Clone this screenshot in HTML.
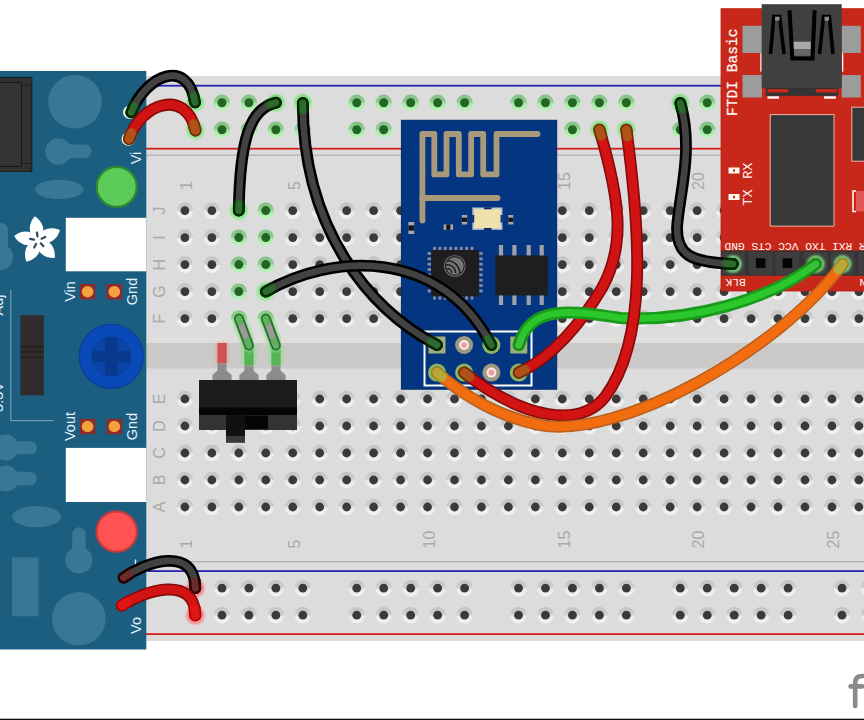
<!DOCTYPE html><html><head><meta charset="utf-8"><style>html,body{margin:0;padding:0;background:#fff;width:864px;height:720px;overflow:hidden}svg{display:block}</style></head><body>
<svg width="864" height="720" viewBox="0 0 864 720">
<defs>
<linearGradient id="hg" x1="0" y1="0" x2="0" y2="1"><stop offset="0" stop-color="#c4c4c4"/><stop offset="0.42" stop-color="#cccccc"/><stop offset="0.58" stop-color="#ebebeb"/><stop offset="1" stop-color="#f3f3f3"/></linearGradient>
<linearGradient id="gg" x1="0" y1="0" x2="0" y2="1"><stop offset="0" stop-color="#84c084"/><stop offset="0.45" stop-color="#8ecc8e"/><stop offset="0.56" stop-color="#a6eaa6"/><stop offset="1" stop-color="#bcf4bc"/></linearGradient>
<filter id="bl" x="-50%" y="-50%" width="200%" height="200%"><feGaussianBlur stdDeviation="0.6"/></filter>
<filter id="bl2" x="-50%" y="-50%" width="200%" height="200%"><feGaussianBlur stdDeviation="1.2"/></filter>
<g id="h"><circle r="8.3" fill="url(#hg)" filter="url(#bl)"/><circle r="4.4" fill="#3a3a3a"/></g>
<g id="hgr"><circle r="8.2" fill="url(#gg)" filter="url(#bl)"/><circle r="4.5" fill="#246424"/></g>
</defs>
<rect x="146" y="76" width="720" height="565" fill="#dcdcdc"/>
<rect x="146" y="336.5" width="720" height="6.5" fill="#dfdedc"/><rect x="146" y="343" width="720" height="25.5" fill="#cbcac8"/>
<rect x="148" y="84.8" width="718" height="1.8" fill="#2525b0"/>
<rect x="146" y="147.8" width="720" height="1.8" fill="#d82020"/>
<rect x="146" y="154.5" width="720" height="1.4" fill="#b4b4b4"/>
<rect x="146" y="561" width="720" height="1.4" fill="#b4b4b4"/>
<rect x="148" y="570.2" width="718" height="1.8" fill="#2525b0"/>
<rect x="146" y="633.2" width="720" height="1.8" fill="#d82020"/>
<text x="0" y="0" transform="translate(186.70000000000002,190) rotate(-90)" font-family='"Liberation Sans", sans-serif' font-size="16" fill="#a9a9a9" text-anchor="start" dominant-baseline="central" >1</text>
<text x="0" y="0" transform="translate(186.70000000000002,548.5) rotate(-90)" font-family='"Liberation Sans", sans-serif' font-size="16" fill="#a9a9a9" text-anchor="start" dominant-baseline="central" >1</text>
<text x="0" y="0" transform="translate(294.54,190) rotate(-90)" font-family='"Liberation Sans", sans-serif' font-size="16" fill="#a9a9a9" text-anchor="start" dominant-baseline="central" >5</text>
<text x="0" y="0" transform="translate(294.54,548.5) rotate(-90)" font-family='"Liberation Sans", sans-serif' font-size="16" fill="#a9a9a9" text-anchor="start" dominant-baseline="central" >5</text>
<text x="0" y="0" transform="translate(429.34000000000003,190) rotate(-90)" font-family='"Liberation Sans", sans-serif' font-size="16" fill="#a9a9a9" text-anchor="start" dominant-baseline="central" >10</text>
<text x="0" y="0" transform="translate(429.34000000000003,548.5) rotate(-90)" font-family='"Liberation Sans", sans-serif' font-size="16" fill="#a9a9a9" text-anchor="start" dominant-baseline="central" >10</text>
<text x="0" y="0" transform="translate(564.14,190) rotate(-90)" font-family='"Liberation Sans", sans-serif' font-size="16" fill="#a9a9a9" text-anchor="start" dominant-baseline="central" >15</text>
<text x="0" y="0" transform="translate(564.14,548.5) rotate(-90)" font-family='"Liberation Sans", sans-serif' font-size="16" fill="#a9a9a9" text-anchor="start" dominant-baseline="central" >15</text>
<text x="0" y="0" transform="translate(698.9399999999999,190) rotate(-90)" font-family='"Liberation Sans", sans-serif' font-size="16" fill="#a9a9a9" text-anchor="start" dominant-baseline="central" >20</text>
<text x="0" y="0" transform="translate(698.9399999999999,548.5) rotate(-90)" font-family='"Liberation Sans", sans-serif' font-size="16" fill="#a9a9a9" text-anchor="start" dominant-baseline="central" >20</text>
<text x="0" y="0" transform="translate(833.7399999999999,190) rotate(-90)" font-family='"Liberation Sans", sans-serif' font-size="16" fill="#a9a9a9" text-anchor="start" dominant-baseline="central" >25</text>
<text x="0" y="0" transform="translate(833.7399999999999,548.5) rotate(-90)" font-family='"Liberation Sans", sans-serif' font-size="16" fill="#a9a9a9" text-anchor="start" dominant-baseline="central" >25</text>
<text x="0" y="0" transform="translate(159.2,210.6) rotate(-90)" font-family='"Liberation Sans", sans-serif' font-size="16" fill="#a9a9a9" text-anchor="middle" dominant-baseline="central" >J</text>
<text x="0" y="0" transform="translate(159.2,237.6) rotate(-90)" font-family='"Liberation Sans", sans-serif' font-size="16" fill="#a9a9a9" text-anchor="middle" dominant-baseline="central" >I</text>
<text x="0" y="0" transform="translate(159.2,264.6) rotate(-90)" font-family='"Liberation Sans", sans-serif' font-size="16" fill="#a9a9a9" text-anchor="middle" dominant-baseline="central" >H</text>
<text x="0" y="0" transform="translate(159.2,291.6) rotate(-90)" font-family='"Liberation Sans", sans-serif' font-size="16" fill="#a9a9a9" text-anchor="middle" dominant-baseline="central" >G</text>
<text x="0" y="0" transform="translate(159.2,318.6) rotate(-90)" font-family='"Liberation Sans", sans-serif' font-size="16" fill="#a9a9a9" text-anchor="middle" dominant-baseline="central" >F</text>
<text x="0" y="0" transform="translate(159.2,399) rotate(-90)" font-family='"Liberation Sans", sans-serif' font-size="16" fill="#a9a9a9" text-anchor="middle" dominant-baseline="central" >E</text>
<text x="0" y="0" transform="translate(159.2,426) rotate(-90)" font-family='"Liberation Sans", sans-serif' font-size="16" fill="#a9a9a9" text-anchor="middle" dominant-baseline="central" >D</text>
<text x="0" y="0" transform="translate(159.2,453) rotate(-90)" font-family='"Liberation Sans", sans-serif' font-size="16" fill="#a9a9a9" text-anchor="middle" dominant-baseline="central" >C</text>
<text x="0" y="0" transform="translate(159.2,480) rotate(-90)" font-family='"Liberation Sans", sans-serif' font-size="16" fill="#a9a9a9" text-anchor="middle" dominant-baseline="central" >B</text>
<text x="0" y="0" transform="translate(159.2,507) rotate(-90)" font-family='"Liberation Sans", sans-serif' font-size="16" fill="#a9a9a9" text-anchor="middle" dominant-baseline="central" >A</text>
<use href="#h" x="184.90" y="210.6"/>
<use href="#h" x="184.90" y="237.6"/>
<use href="#h" x="184.90" y="264.6"/>
<use href="#h" x="184.90" y="291.6"/>
<use href="#h" x="184.90" y="318.6"/>
<use href="#h" x="184.90" y="399"/>
<use href="#h" x="184.90" y="426"/>
<use href="#h" x="184.90" y="453"/>
<use href="#h" x="184.90" y="480"/>
<use href="#h" x="184.90" y="507"/>
<use href="#h" x="211.86" y="210.6"/>
<use href="#h" x="211.86" y="237.6"/>
<use href="#h" x="211.86" y="264.6"/>
<use href="#h" x="211.86" y="291.6"/>
<use href="#h" x="211.86" y="318.6"/>
<use href="#h" x="211.86" y="399"/>
<use href="#h" x="211.86" y="426"/>
<use href="#h" x="211.86" y="453"/>
<use href="#h" x="211.86" y="480"/>
<use href="#h" x="211.86" y="507"/>
<use href="#hgr" x="238.82" y="210.6"/>
<use href="#hgr" x="238.82" y="237.6"/>
<use href="#hgr" x="238.82" y="264.6"/>
<use href="#hgr" x="238.82" y="291.6"/>
<use href="#hgr" x="238.82" y="318.6"/>
<use href="#h" x="238.82" y="399"/>
<use href="#h" x="238.82" y="426"/>
<use href="#h" x="238.82" y="453"/>
<use href="#h" x="238.82" y="480"/>
<use href="#h" x="238.82" y="507"/>
<use href="#hgr" x="265.78" y="210.6"/>
<use href="#hgr" x="265.78" y="237.6"/>
<use href="#hgr" x="265.78" y="264.6"/>
<use href="#hgr" x="265.78" y="291.6"/>
<use href="#hgr" x="265.78" y="318.6"/>
<use href="#h" x="265.78" y="399"/>
<use href="#h" x="265.78" y="426"/>
<use href="#h" x="265.78" y="453"/>
<use href="#h" x="265.78" y="480"/>
<use href="#h" x="265.78" y="507"/>
<use href="#h" x="292.74" y="210.6"/>
<use href="#h" x="292.74" y="237.6"/>
<use href="#h" x="292.74" y="264.6"/>
<use href="#h" x="292.74" y="291.6"/>
<use href="#h" x="292.74" y="318.6"/>
<use href="#h" x="292.74" y="399"/>
<use href="#h" x="292.74" y="426"/>
<use href="#h" x="292.74" y="453"/>
<use href="#h" x="292.74" y="480"/>
<use href="#h" x="292.74" y="507"/>
<use href="#h" x="319.70" y="210.6"/>
<use href="#h" x="319.70" y="237.6"/>
<use href="#h" x="319.70" y="264.6"/>
<use href="#h" x="319.70" y="291.6"/>
<use href="#h" x="319.70" y="318.6"/>
<use href="#h" x="319.70" y="399"/>
<use href="#h" x="319.70" y="426"/>
<use href="#h" x="319.70" y="453"/>
<use href="#h" x="319.70" y="480"/>
<use href="#h" x="319.70" y="507"/>
<use href="#h" x="346.66" y="210.6"/>
<use href="#h" x="346.66" y="237.6"/>
<use href="#h" x="346.66" y="264.6"/>
<use href="#h" x="346.66" y="291.6"/>
<use href="#h" x="346.66" y="318.6"/>
<use href="#h" x="346.66" y="399"/>
<use href="#h" x="346.66" y="426"/>
<use href="#h" x="346.66" y="453"/>
<use href="#h" x="346.66" y="480"/>
<use href="#h" x="346.66" y="507"/>
<use href="#h" x="373.62" y="210.6"/>
<use href="#h" x="373.62" y="237.6"/>
<use href="#h" x="373.62" y="264.6"/>
<use href="#h" x="373.62" y="291.6"/>
<use href="#h" x="373.62" y="318.6"/>
<use href="#h" x="373.62" y="399"/>
<use href="#h" x="373.62" y="426"/>
<use href="#h" x="373.62" y="453"/>
<use href="#h" x="373.62" y="480"/>
<use href="#h" x="373.62" y="507"/>
<use href="#h" x="400.58" y="210.6"/>
<use href="#h" x="400.58" y="237.6"/>
<use href="#h" x="400.58" y="264.6"/>
<use href="#h" x="400.58" y="291.6"/>
<use href="#h" x="400.58" y="318.6"/>
<use href="#h" x="400.58" y="399"/>
<use href="#h" x="400.58" y="426"/>
<use href="#h" x="400.58" y="453"/>
<use href="#h" x="400.58" y="480"/>
<use href="#h" x="400.58" y="507"/>
<use href="#h" x="427.54" y="210.6"/>
<use href="#h" x="427.54" y="237.6"/>
<use href="#h" x="427.54" y="264.6"/>
<use href="#h" x="427.54" y="291.6"/>
<use href="#h" x="427.54" y="318.6"/>
<use href="#h" x="427.54" y="399"/>
<use href="#h" x="427.54" y="426"/>
<use href="#h" x="427.54" y="453"/>
<use href="#h" x="427.54" y="480"/>
<use href="#h" x="427.54" y="507"/>
<use href="#h" x="454.50" y="210.6"/>
<use href="#h" x="454.50" y="237.6"/>
<use href="#h" x="454.50" y="264.6"/>
<use href="#h" x="454.50" y="291.6"/>
<use href="#h" x="454.50" y="318.6"/>
<use href="#h" x="454.50" y="399"/>
<use href="#h" x="454.50" y="426"/>
<use href="#h" x="454.50" y="453"/>
<use href="#h" x="454.50" y="480"/>
<use href="#h" x="454.50" y="507"/>
<use href="#h" x="481.46" y="210.6"/>
<use href="#h" x="481.46" y="237.6"/>
<use href="#h" x="481.46" y="264.6"/>
<use href="#h" x="481.46" y="291.6"/>
<use href="#h" x="481.46" y="318.6"/>
<use href="#h" x="481.46" y="399"/>
<use href="#h" x="481.46" y="426"/>
<use href="#h" x="481.46" y="453"/>
<use href="#h" x="481.46" y="480"/>
<use href="#h" x="481.46" y="507"/>
<use href="#h" x="508.42" y="210.6"/>
<use href="#h" x="508.42" y="237.6"/>
<use href="#h" x="508.42" y="264.6"/>
<use href="#h" x="508.42" y="291.6"/>
<use href="#h" x="508.42" y="318.6"/>
<use href="#h" x="508.42" y="399"/>
<use href="#h" x="508.42" y="426"/>
<use href="#h" x="508.42" y="453"/>
<use href="#h" x="508.42" y="480"/>
<use href="#h" x="508.42" y="507"/>
<use href="#h" x="535.38" y="210.6"/>
<use href="#h" x="535.38" y="237.6"/>
<use href="#h" x="535.38" y="264.6"/>
<use href="#h" x="535.38" y="291.6"/>
<use href="#h" x="535.38" y="318.6"/>
<use href="#h" x="535.38" y="399"/>
<use href="#h" x="535.38" y="426"/>
<use href="#h" x="535.38" y="453"/>
<use href="#h" x="535.38" y="480"/>
<use href="#h" x="535.38" y="507"/>
<use href="#h" x="562.34" y="210.6"/>
<use href="#h" x="562.34" y="237.6"/>
<use href="#h" x="562.34" y="264.6"/>
<use href="#h" x="562.34" y="291.6"/>
<use href="#h" x="562.34" y="318.6"/>
<use href="#h" x="562.34" y="399"/>
<use href="#h" x="562.34" y="426"/>
<use href="#h" x="562.34" y="453"/>
<use href="#h" x="562.34" y="480"/>
<use href="#h" x="562.34" y="507"/>
<use href="#h" x="589.30" y="210.6"/>
<use href="#h" x="589.30" y="237.6"/>
<use href="#h" x="589.30" y="264.6"/>
<use href="#h" x="589.30" y="291.6"/>
<use href="#h" x="589.30" y="318.6"/>
<use href="#h" x="589.30" y="399"/>
<use href="#h" x="589.30" y="426"/>
<use href="#h" x="589.30" y="453"/>
<use href="#h" x="589.30" y="480"/>
<use href="#h" x="589.30" y="507"/>
<use href="#h" x="616.26" y="210.6"/>
<use href="#h" x="616.26" y="237.6"/>
<use href="#h" x="616.26" y="264.6"/>
<use href="#h" x="616.26" y="291.6"/>
<use href="#h" x="616.26" y="318.6"/>
<use href="#h" x="616.26" y="399"/>
<use href="#h" x="616.26" y="426"/>
<use href="#h" x="616.26" y="453"/>
<use href="#h" x="616.26" y="480"/>
<use href="#h" x="616.26" y="507"/>
<use href="#h" x="643.22" y="210.6"/>
<use href="#h" x="643.22" y="237.6"/>
<use href="#h" x="643.22" y="264.6"/>
<use href="#h" x="643.22" y="291.6"/>
<use href="#h" x="643.22" y="318.6"/>
<use href="#h" x="643.22" y="399"/>
<use href="#h" x="643.22" y="426"/>
<use href="#h" x="643.22" y="453"/>
<use href="#h" x="643.22" y="480"/>
<use href="#h" x="643.22" y="507"/>
<use href="#h" x="670.18" y="210.6"/>
<use href="#h" x="670.18" y="237.6"/>
<use href="#h" x="670.18" y="264.6"/>
<use href="#h" x="670.18" y="291.6"/>
<use href="#h" x="670.18" y="318.6"/>
<use href="#h" x="670.18" y="399"/>
<use href="#h" x="670.18" y="426"/>
<use href="#h" x="670.18" y="453"/>
<use href="#h" x="670.18" y="480"/>
<use href="#h" x="670.18" y="507"/>
<use href="#h" x="697.14" y="210.6"/>
<use href="#h" x="697.14" y="237.6"/>
<use href="#h" x="697.14" y="264.6"/>
<use href="#h" x="697.14" y="291.6"/>
<use href="#h" x="697.14" y="318.6"/>
<use href="#h" x="697.14" y="399"/>
<use href="#h" x="697.14" y="426"/>
<use href="#h" x="697.14" y="453"/>
<use href="#h" x="697.14" y="480"/>
<use href="#h" x="697.14" y="507"/>
<use href="#h" x="724.10" y="210.6"/>
<use href="#h" x="724.10" y="237.6"/>
<use href="#h" x="724.10" y="264.6"/>
<use href="#h" x="724.10" y="291.6"/>
<use href="#h" x="724.10" y="318.6"/>
<use href="#h" x="724.10" y="399"/>
<use href="#h" x="724.10" y="426"/>
<use href="#h" x="724.10" y="453"/>
<use href="#h" x="724.10" y="480"/>
<use href="#h" x="724.10" y="507"/>
<use href="#h" x="751.06" y="210.6"/>
<use href="#h" x="751.06" y="237.6"/>
<use href="#h" x="751.06" y="264.6"/>
<use href="#h" x="751.06" y="291.6"/>
<use href="#h" x="751.06" y="318.6"/>
<use href="#h" x="751.06" y="399"/>
<use href="#h" x="751.06" y="426"/>
<use href="#h" x="751.06" y="453"/>
<use href="#h" x="751.06" y="480"/>
<use href="#h" x="751.06" y="507"/>
<use href="#h" x="778.02" y="210.6"/>
<use href="#h" x="778.02" y="237.6"/>
<use href="#h" x="778.02" y="264.6"/>
<use href="#h" x="778.02" y="291.6"/>
<use href="#h" x="778.02" y="318.6"/>
<use href="#h" x="778.02" y="399"/>
<use href="#h" x="778.02" y="426"/>
<use href="#h" x="778.02" y="453"/>
<use href="#h" x="778.02" y="480"/>
<use href="#h" x="778.02" y="507"/>
<use href="#h" x="804.98" y="210.6"/>
<use href="#h" x="804.98" y="237.6"/>
<use href="#h" x="804.98" y="264.6"/>
<use href="#h" x="804.98" y="291.6"/>
<use href="#h" x="804.98" y="318.6"/>
<use href="#h" x="804.98" y="399"/>
<use href="#h" x="804.98" y="426"/>
<use href="#h" x="804.98" y="453"/>
<use href="#h" x="804.98" y="480"/>
<use href="#h" x="804.98" y="507"/>
<use href="#h" x="831.94" y="210.6"/>
<use href="#h" x="831.94" y="237.6"/>
<use href="#h" x="831.94" y="264.6"/>
<use href="#h" x="831.94" y="291.6"/>
<use href="#h" x="831.94" y="318.6"/>
<use href="#h" x="831.94" y="399"/>
<use href="#h" x="831.94" y="426"/>
<use href="#h" x="831.94" y="453"/>
<use href="#h" x="831.94" y="480"/>
<use href="#h" x="831.94" y="507"/>
<use href="#h" x="858.90" y="210.6"/>
<use href="#h" x="858.90" y="237.6"/>
<use href="#h" x="858.90" y="264.6"/>
<use href="#h" x="858.90" y="291.6"/>
<use href="#h" x="858.90" y="318.6"/>
<use href="#h" x="858.90" y="399"/>
<use href="#h" x="858.90" y="426"/>
<use href="#h" x="858.90" y="453"/>
<use href="#h" x="858.90" y="480"/>
<use href="#h" x="858.90" y="507"/>
<use href="#hgr" x="195.0" y="102.7"/>
<use href="#hgr" x="195.0" y="129.7"/>
<use href="#h" x="195.00" y="588.2"/>
<use href="#h" x="195.00" y="615.2"/>
<use href="#hgr" x="221.96" y="102.7"/>
<use href="#hgr" x="221.96" y="129.7"/>
<use href="#h" x="221.96" y="588.2"/>
<use href="#h" x="221.96" y="615.2"/>
<use href="#hgr" x="248.92" y="102.7"/>
<use href="#hgr" x="248.92" y="129.7"/>
<use href="#h" x="248.92" y="588.2"/>
<use href="#h" x="248.92" y="615.2"/>
<use href="#hgr" x="275.88" y="102.7"/>
<use href="#hgr" x="275.88" y="129.7"/>
<use href="#h" x="275.88" y="588.2"/>
<use href="#h" x="275.88" y="615.2"/>
<use href="#hgr" x="302.84" y="102.7"/>
<use href="#hgr" x="302.84" y="129.7"/>
<use href="#h" x="302.84" y="588.2"/>
<use href="#h" x="302.84" y="615.2"/>
<use href="#hgr" x="356.76" y="102.7"/>
<use href="#hgr" x="356.76" y="129.7"/>
<use href="#h" x="356.76" y="588.2"/>
<use href="#h" x="356.76" y="615.2"/>
<use href="#hgr" x="383.72" y="102.7"/>
<use href="#hgr" x="383.72" y="129.7"/>
<use href="#h" x="383.72" y="588.2"/>
<use href="#h" x="383.72" y="615.2"/>
<use href="#hgr" x="410.68" y="102.7"/>
<use href="#hgr" x="410.68" y="129.7"/>
<use href="#h" x="410.68" y="588.2"/>
<use href="#h" x="410.68" y="615.2"/>
<use href="#hgr" x="437.64" y="102.7"/>
<use href="#hgr" x="437.64" y="129.7"/>
<use href="#h" x="437.64" y="588.2"/>
<use href="#h" x="437.64" y="615.2"/>
<use href="#hgr" x="464.6" y="102.7"/>
<use href="#hgr" x="464.6" y="129.7"/>
<use href="#h" x="464.60" y="588.2"/>
<use href="#h" x="464.60" y="615.2"/>
<use href="#hgr" x="518.52" y="102.7"/>
<use href="#hgr" x="518.52" y="129.7"/>
<use href="#h" x="518.52" y="588.2"/>
<use href="#h" x="518.52" y="615.2"/>
<use href="#hgr" x="545.48" y="102.7"/>
<use href="#hgr" x="545.48" y="129.7"/>
<use href="#h" x="545.48" y="588.2"/>
<use href="#h" x="545.48" y="615.2"/>
<use href="#hgr" x="572.44" y="102.7"/>
<use href="#hgr" x="572.44" y="129.7"/>
<use href="#h" x="572.44" y="588.2"/>
<use href="#h" x="572.44" y="615.2"/>
<use href="#hgr" x="599.4" y="102.7"/>
<use href="#hgr" x="599.4" y="129.7"/>
<use href="#h" x="599.40" y="588.2"/>
<use href="#h" x="599.40" y="615.2"/>
<use href="#hgr" x="626.36" y="102.7"/>
<use href="#hgr" x="626.36" y="129.7"/>
<use href="#h" x="626.36" y="588.2"/>
<use href="#h" x="626.36" y="615.2"/>
<use href="#hgr" x="680.28" y="102.7"/>
<use href="#hgr" x="680.28" y="129.7"/>
<use href="#h" x="680.28" y="588.2"/>
<use href="#h" x="680.28" y="615.2"/>
<use href="#hgr" x="707.24" y="102.7"/>
<use href="#hgr" x="707.24" y="129.7"/>
<use href="#h" x="707.24" y="588.2"/>
<use href="#h" x="707.24" y="615.2"/>
<use href="#hgr" x="734.2" y="102.7"/>
<use href="#hgr" x="734.2" y="129.7"/>
<use href="#h" x="734.20" y="588.2"/>
<use href="#h" x="734.20" y="615.2"/>
<use href="#hgr" x="761.16" y="102.7"/>
<use href="#hgr" x="761.16" y="129.7"/>
<use href="#h" x="761.16" y="588.2"/>
<use href="#h" x="761.16" y="615.2"/>
<use href="#hgr" x="788.12" y="102.7"/>
<use href="#hgr" x="788.12" y="129.7"/>
<use href="#h" x="788.12" y="588.2"/>
<use href="#h" x="788.12" y="615.2"/>
<use href="#hgr" x="842.04" y="102.7"/>
<use href="#hgr" x="842.04" y="129.7"/>
<use href="#h" x="842.04" y="588.2"/>
<use href="#h" x="842.04" y="615.2"/>
<use href="#hgr" x="869.0" y="102.7"/>
<use href="#hgr" x="869.0" y="129.7"/>
<use href="#h" x="869.00" y="588.2"/>
<use href="#h" x="869.00" y="615.2"/>
<use href="#hgr" x="895.96" y="102.7"/>
<use href="#hgr" x="895.96" y="129.7"/>
<use href="#h" x="895.96" y="588.2"/>
<use href="#h" x="895.96" y="615.2"/>
<use href="#hgr" x="922.92" y="102.7"/>
<use href="#hgr" x="922.92" y="129.7"/>
<use href="#h" x="922.92" y="588.2"/>
<use href="#h" x="922.92" y="615.2"/>
<use href="#hgr" x="949.88" y="102.7"/>
<use href="#hgr" x="949.88" y="129.7"/>
<use href="#h" x="949.88" y="588.2"/>
<use href="#h" x="949.88" y="615.2"/>
<rect x="-5" y="71" width="151.3" height="578.5" fill="#1b5e80"/>
<rect x="-2" y="77.4" width="33.8" height="94" fill="#313131" stroke="#1c1c1c" stroke-width="1"/>
<rect x="-2" y="82.4" width="23.4" height="84" fill="#343434" stroke="#161616" stroke-width="1"/>
<path d="M21.4,85.3 H31.8 M21.4,163.4 H31.8" stroke="#1c1c1c" stroke-width="0.8"/>
<g fill="#3a7795">
<circle cx="75" cy="101.8" r="26.8"/>
<circle cx="58.4" cy="151.4" r="13.2"/><rect x="58" y="144.6" width="33.4" height="13.6" rx="6.8"/>
<ellipse cx="59.3" cy="189.4" rx="24.3" ry="9.7"/>
<circle cx="0" cy="257" r="13"/><rect x="-6" y="223" width="14" height="36" rx="7"/>
<circle cx="5.8" cy="447.5" r="13"/><rect x="5" y="441.3" width="32" height="13" rx="6.5"/>
<circle cx="5.8" cy="478.6" r="13"/><rect x="5" y="471.8" width="32" height="13.6" rx="6.8"/>
<ellipse cx="36.6" cy="516.6" rx="24.3" ry="10.7"/>
<circle cx="78.8" cy="560" r="13.6"/><rect x="72.2" y="527.3" width="13.4" height="33" rx="6.7"/>
<rect x="12" y="557.5" width="26.5" height="58.8"/>
<circle cx="78.8" cy="618.8" r="26.8"/>
</g>
<circle cx="116.7" cy="186.8" r="20" fill="#5ccc58" stroke="#2f8a2e" stroke-width="2.2"/>
<circle cx="116.7" cy="531.6" r="20.2" fill="#ff5252" stroke="#c23c3c" stroke-width="2.2"/>
<rect x="65.8" y="217.8" width="80.5" height="53.5" fill="#ffffff"/>
<rect x="65.8" y="447.9" width="80.5" height="54.1" fill="#ffffff"/>
<g transform="translate(38,240.4) rotate(-7.5)">
<path d="M0,-1 C-9.5,-5 -8.5,-17 0,-24.3 C8.5,-17 9.5,-5 0,-1Z" fill="#ffffff" transform="rotate(0)"/>
<path d="M0,-1 C-9.5,-5 -8.5,-17 0,-24.3 C8.5,-17 9.5,-5 0,-1Z" fill="#ffffff" transform="rotate(72)"/>
<path d="M0,-1 C-9.5,-5 -8.5,-17 0,-24.3 C8.5,-17 9.5,-5 0,-1Z" fill="#ffffff" transform="rotate(144)"/>
<path d="M0,-1 C-9.5,-5 -8.5,-17 0,-24.3 C8.5,-17 9.5,-5 0,-1Z" fill="#ffffff" transform="rotate(216)"/>
<path d="M0,-1 C-9.5,-5 -8.5,-17 0,-24.3 C8.5,-17 9.5,-5 0,-1Z" fill="#ffffff" transform="rotate(288)"/>
<circle r="3.5" fill="#ffffff"/>
<line x1="0" y1="-4" x2="0" y2="-8" stroke="#2e4a5a" stroke-width="2.2" stroke-linecap="round" transform="rotate(0)"/>
<line x1="0" y1="-4" x2="0" y2="-8" stroke="#2e4a5a" stroke-width="2.2" stroke-linecap="round" transform="rotate(72)"/>
<line x1="0" y1="-4" x2="0" y2="-8" stroke="#2e4a5a" stroke-width="2.2" stroke-linecap="round" transform="rotate(144)"/>
<line x1="0" y1="-4" x2="0" y2="-8" stroke="#2e4a5a" stroke-width="2.2" stroke-linecap="round" transform="rotate(216)"/>
<line x1="0" y1="-4" x2="0" y2="-8" stroke="#2e4a5a" stroke-width="2.2" stroke-linecap="round" transform="rotate(288)"/>
</g>
<rect x="79.89999999999999" y="284.0" width="15.4" height="15.4" fill="#8c2a2c"/>
<circle cx="87.6" cy="291.7" r="5.8" fill="#f4a23e"/>
<rect x="106.6" y="284.0" width="15.4" height="15.4" fill="#8c2a2c"/>
<circle cx="114.3" cy="291.7" r="5.8" fill="#f4a23e"/>
<rect x="79.89999999999999" y="418.8" width="15.4" height="15.4" fill="#8c2a2c"/>
<circle cx="87.6" cy="426.5" r="5.8" fill="#f4a23e"/>
<rect x="106.6" y="418.8" width="15.4" height="15.4" fill="#8c2a2c"/>
<circle cx="114.3" cy="426.5" r="5.8" fill="#f4a23e"/>
<circle cx="111.3" cy="356.4" r="32" fill="#0a4ab8" stroke="#0a3f9e" stroke-width="1.4"/>
<circle cx="111.3" cy="356.4" r="19.5" fill="#0a44a8" stroke="#093c96" stroke-width="1"/>
<rect x="91.8" y="351" width="38.6" height="11" fill="#08398e"/>
<rect x="105" y="337" width="12.7" height="38" fill="#08398e"/>
<rect x="20.4" y="315.2" width="23.4" height="80.1" fill="#302c2b"/>
<g stroke="#1f1a19" stroke-width="1"><line x1="20.4" y1="346.7" x2="43.8" y2="346.7"/><line x1="20.4" y1="352" x2="43.8" y2="352"/><line x1="20.4" y1="357.5" x2="43.8" y2="357.5"/></g>
<g stroke="#6f9cb3" stroke-width="1.2" fill="none"><path d="M10.8,290 V420.7 H53.5"/></g>
<text x="0" y="0" transform="translate(70,291.5) rotate(-90)" font-family='"Liberation Sans", sans-serif' font-size="14.5" fill="#e6f2fa" text-anchor="middle" dominant-baseline="central" >Vin</text>
<text x="0" y="0" transform="translate(131.5,291.5) rotate(-90)" font-family='"Liberation Sans", sans-serif' font-size="14.5" fill="#e6f2fa" text-anchor="middle" dominant-baseline="central" >Gnd</text>
<text x="0" y="0" transform="translate(70,426.5) rotate(-90)" font-family='"Liberation Sans", sans-serif' font-size="14.5" fill="#e6f2fa" text-anchor="middle" dominant-baseline="central" >Vout</text>
<text x="0" y="0" transform="translate(131.5,426.5) rotate(-90)" font-family='"Liberation Sans", sans-serif' font-size="14.5" fill="#e6f2fa" text-anchor="middle" dominant-baseline="central" >Gnd</text>
<text x="0" y="0" transform="translate(135.5,158) rotate(-90)" font-family='"Liberation Sans", sans-serif' font-size="14.5" fill="#e6f2fa" text-anchor="middle" dominant-baseline="central" >Vi</text>
<text x="0" y="0" transform="translate(135.5,625.5) rotate(-90)" font-family='"Liberation Sans", sans-serif' font-size="14.5" fill="#e6f2fa" text-anchor="middle" dominant-baseline="central" >Vo</text>
<text x="0" y="0" transform="translate(-2.5,305) rotate(-90)" font-family='"Liberation Sans", sans-serif' font-size="14.5" fill="#e6f2fa" text-anchor="middle" dominant-baseline="central" >Adj</text>
<text x="0" y="0" transform="translate(-2.5,397) rotate(-90)" font-family='"Liberation Sans", sans-serif' font-size="14.5" fill="#e6f2fa" text-anchor="middle" dominant-baseline="central" >3.3V</text>
<rect x="134.8" y="559.5" width="1.4" height="5.5" fill="#e6f2fa"/>
<circle cx="129.8" cy="112.3" r="6.8" fill="#d8f8dc"/>
<circle cx="128.3" cy="139" r="6.8" fill="#d8f8dc"/>
<path d="M212.4,380.5 V375 L217.5,370.5 H226.5 L231.6,375 V380.5 Z" fill="#8c8c8c"/>
<rect x="217.5" y="343" width="9" height="29" fill="#8c8c8c"/>
<path d="M239.4,380.5 V375 L244.5,370.5 H253.5 L258.6,375 V380.5 Z" fill="#8c8c8c"/>
<rect x="244.5" y="343" width="9" height="29" fill="#8c8c8c"/>
<path d="M266.4,380.5 V375 L271.5,370.5 H280.5 L285.6,375 V380.5 Z" fill="#8c8c8c"/>
<rect x="271.5" y="343" width="9" height="29" fill="#8c8c8c"/>
<rect x="215" y="342" width="14" height="22" rx="4" fill="#f09090" opacity="0.45" filter="url(#bl2)"/>
<rect x="217.6" y="343" width="9" height="20" fill="#d25050"/>
<rect x="241" y="344" width="16" height="22" rx="5" fill="#8ae08a" opacity="0.5" filter="url(#bl2)"/>
<rect x="244.5" y="344" width="9" height="21" fill="#56b456"/>
<rect x="268" y="344" width="16" height="22" rx="5" fill="#8ae08a" opacity="0.5" filter="url(#bl2)"/>
<rect x="271.5" y="344" width="9" height="21" fill="#56b456"/>
<line x1="238.9" y1="318.6" x2="248.9" y2="345.5" stroke="#80e080" stroke-width="14" stroke-linecap="round" opacity="0.65" filter="url(#bl2)"/>
<line x1="238.9" y1="318.6" x2="248.9" y2="345.5" stroke="#2b6e2b" stroke-width="10" stroke-linecap="round"/>
<line x1="238.9" y1="318.6" x2="248.9" y2="345.5" stroke="#9a9a9a" stroke-width="6.2" stroke-linecap="round"/>
<line x1="238.9" y1="318.6" x2="240.29" y2="322.35" stroke="#5eb05e" stroke-width="6.2" stroke-linecap="round"/>
<line x1="247.16" y1="340.81" x2="248.9" y2="345.5" stroke="#5eb05e" stroke-width="6.2" stroke-linecap="round"/>
<line x1="265.8" y1="318.6" x2="275.9" y2="345.5" stroke="#80e080" stroke-width="14" stroke-linecap="round" opacity="0.65" filter="url(#bl2)"/>
<line x1="265.8" y1="318.6" x2="275.9" y2="345.5" stroke="#2b6e2b" stroke-width="10" stroke-linecap="round"/>
<line x1="265.8" y1="318.6" x2="275.9" y2="345.5" stroke="#9a9a9a" stroke-width="6.2" stroke-linecap="round"/>
<line x1="265.8" y1="318.6" x2="267.21" y2="322.34" stroke="#5eb05e" stroke-width="6.2" stroke-linecap="round"/>
<line x1="274.14" y1="340.82" x2="275.9" y2="345.5" stroke="#5eb05e" stroke-width="6.2" stroke-linecap="round"/>
<rect x="199" y="380" width="98" height="50" fill="#1c1c1c"/>
<rect x="199" y="407.5" width="98" height="22.5" fill="#050505"/>
<rect x="199" y="415" width="98" height="15" fill="#333333"/>
<rect x="226" y="415.5" width="42" height="13.5" fill="#050505"/>
<rect x="226" y="415.5" width="19" height="27" fill="#111111"/>
<rect x="226" y="436" width="19" height="6.5" fill="#3a3a3a"/>
<rect x="401.4" y="120.3" width="155.3" height="268.9" fill="#033580" stroke="#022a6a" stroke-width="1"/>
<path d="M422.4,220.5 V134 H434.3 V174.4 H446.5 V134 H458.8 V174.4 H471.1 V134 H483.2 V174.4 H496.5 V134 H537.5" fill="none" stroke="#a89a7a" stroke-width="5.8" stroke-linejoin="round" stroke-linecap="round"/>
<path d="M422.4,198 H497.5" fill="none" stroke="#a89a7a" stroke-width="5.8" stroke-linecap="round"/>
<rect x="472.4" y="207.5" width="30" height="22.3" fill="#c4c8d2"/>
<rect x="474.2" y="209.3" width="26.4" height="18.7" fill="#efe1ac"/>
<rect x="484" y="207.3" width="7.5" height="2" fill="#0a2a6a"/><rect x="484" y="228" width="7.5" height="2" fill="#0a2a6a"/>
<rect x="472.2" y="215" width="2" height="7.5" fill="#0a2a6a"/><rect x="500.6" y="215" width="2" height="7.5" fill="#0a2a6a"/>
<rect x="408.4" y="222" width="5.8" height="12" fill="#a8a8a8"/>
<rect x="408.4" y="225.36" width="5.8" height="5.28" fill="#151515"/>
<rect x="443.7" y="224.4" width="9.3" height="5.4" fill="#a8a8a8"/>
<rect x="446.304" y="224.4" width="4.0920000000000005" height="5.4" fill="#151515"/>
<rect x="461.8" y="215" width="5.4" height="9.5" fill="#a8a8a8"/>
<rect x="461.8" y="217.66" width="5.4" height="4.18" fill="#151515"/>
<rect x="508.3" y="215" width="5" height="9.5" fill="#a8a8a8"/>
<rect x="508.3" y="217.66" width="5" height="4.18" fill="#151515"/>
<rect x="431.3" y="250" width="47.7" height="46.4" fill="#1e1e1e"/>
<rect x="433.1" y="246.8" width="2.8" height="3.2" fill="#8a8aa0"/>
<rect x="433.1" y="296.4" width="2.8" height="3.2" fill="#8a8aa0"/>
<rect x="427.6" y="252.1" width="3.4" height="2.8" fill="#8a8aa0"/>
<rect x="479.3" y="252.1" width="3.4" height="2.8" fill="#8a8aa0"/>
<rect x="438.45000000000005" y="246.8" width="2.8" height="3.2" fill="#8a8aa0"/>
<rect x="438.45000000000005" y="296.4" width="2.8" height="3.2" fill="#8a8aa0"/>
<rect x="427.6" y="257.45000000000005" width="3.4" height="2.8" fill="#8a8aa0"/>
<rect x="479.3" y="257.45000000000005" width="3.4" height="2.8" fill="#8a8aa0"/>
<rect x="443.8" y="246.8" width="2.8" height="3.2" fill="#8a8aa0"/>
<rect x="443.8" y="296.4" width="2.8" height="3.2" fill="#8a8aa0"/>
<rect x="427.6" y="262.8" width="3.4" height="2.8" fill="#8a8aa0"/>
<rect x="479.3" y="262.8" width="3.4" height="2.8" fill="#8a8aa0"/>
<rect x="449.15000000000003" y="246.8" width="2.8" height="3.2" fill="#8a8aa0"/>
<rect x="449.15000000000003" y="296.4" width="2.8" height="3.2" fill="#8a8aa0"/>
<rect x="427.6" y="268.15000000000003" width="3.4" height="2.8" fill="#8a8aa0"/>
<rect x="479.3" y="268.15000000000003" width="3.4" height="2.8" fill="#8a8aa0"/>
<rect x="454.5" y="246.8" width="2.8" height="3.2" fill="#8a8aa0"/>
<rect x="454.5" y="296.4" width="2.8" height="3.2" fill="#8a8aa0"/>
<rect x="427.6" y="273.5" width="3.4" height="2.8" fill="#8a8aa0"/>
<rect x="479.3" y="273.5" width="3.4" height="2.8" fill="#8a8aa0"/>
<rect x="459.85" y="246.8" width="2.8" height="3.2" fill="#8a8aa0"/>
<rect x="459.85" y="296.4" width="2.8" height="3.2" fill="#8a8aa0"/>
<rect x="427.6" y="278.85" width="3.4" height="2.8" fill="#8a8aa0"/>
<rect x="479.3" y="278.85" width="3.4" height="2.8" fill="#8a8aa0"/>
<rect x="465.20000000000005" y="246.8" width="2.8" height="3.2" fill="#8a8aa0"/>
<rect x="465.20000000000005" y="296.4" width="2.8" height="3.2" fill="#8a8aa0"/>
<rect x="427.6" y="284.20000000000005" width="3.4" height="2.8" fill="#8a8aa0"/>
<rect x="479.3" y="284.20000000000005" width="3.4" height="2.8" fill="#8a8aa0"/>
<rect x="470.55" y="246.8" width="2.8" height="3.2" fill="#8a8aa0"/>
<rect x="470.55" y="296.4" width="2.8" height="3.2" fill="#8a8aa0"/>
<rect x="427.6" y="289.55" width="3.4" height="2.8" fill="#8a8aa0"/>
<rect x="479.3" y="289.55" width="3.4" height="2.8" fill="#8a8aa0"/>
<clipPath id="lc"><circle cx="454.8" cy="266" r="9.6"/></clipPath>
<circle cx="454.8" cy="266" r="10.8" fill="#767676"/>
<circle cx="454.8" cy="266" r="9.4" fill="none" stroke="#1e1e1e" stroke-width="1.1"/>
<g clip-path="url(#lc)" fill="none" stroke="#1e1e1e" stroke-width="1.5">
<path d="M443.3,273 A4.2,4.2 0 0 1 451.7,273"/>
<path d="M439.3,273 A8.2,8.2 0 0 1 455.7,273"/>
<path d="M435.3,273 A12.2,12.2 0 0 1 459.7,273"/>
<line x1="447.5" y1="273" x2="447.5" y2="285"/>
</g>
<rect x="495.3" y="255.4" width="52.5" height="40.1" fill="#1e1e1e"/>
<rect x="498.9" y="245" width="4.2" height="10.4" fill="#a0a0a8"/>
<rect x="498.9" y="295.5" width="4.2" height="9.5" fill="#a0a0a8"/>
<rect x="512.3" y="245" width="4.2" height="10.4" fill="#a0a0a8"/>
<rect x="512.3" y="295.5" width="4.2" height="9.5" fill="#a0a0a8"/>
<rect x="526.6" y="245" width="4.2" height="10.4" fill="#a0a0a8"/>
<rect x="526.6" y="295.5" width="4.2" height="9.5" fill="#a0a0a8"/>
<rect x="539.6" y="245" width="4.2" height="10.4" fill="#a0a0a8"/>
<rect x="539.6" y="295.5" width="4.2" height="9.5" fill="#a0a0a8"/>
<rect x="424.5" y="331.5" width="107" height="54" fill="none" stroke="#ffffff" stroke-width="2"/>
<rect x="428.5" y="336.5" width="17" height="17" fill="#9eae78"/>
<circle cx="464.1" cy="345" r="9" fill="#9e9a80"/>
<circle cx="464.1" cy="345" r="5" fill="#f8e8e8"/><circle cx="464.1" cy="345" r="2.8" fill="#f29a9a"/>
<circle cx="491.4" cy="345" r="9" fill="#8cb464"/>
<rect x="510.29999999999995" y="336.5" width="17" height="17" fill="#9eae78"/>
<circle cx="437" cy="372.6" r="9" fill="#8cb464"/>
<circle cx="464.1" cy="372.6" r="9" fill="#8cb464"/>
<circle cx="491.4" cy="372.6" r="9" fill="#9e9a80"/>
<circle cx="491.4" cy="372.6" r="5" fill="#f8e8e8"/><circle cx="491.4" cy="372.6" r="2.8" fill="#f29a9a"/>
<circle cx="518.8" cy="372.6" r="9" fill="#8cb464"/>
<rect x="721" y="8.7" width="150" height="282.3" fill="#c82819" stroke="#b82010" stroke-width="0.8"/>
<rect x="742.5" y="25.8" width="19.5" height="27.2" fill="#9c9c9c"/>
<rect x="841.7" y="25.8" width="19.1" height="27.2" fill="#9c9c9c"/>
<rect x="742.5" y="75" width="19.5" height="22.5" fill="#9c9c9c"/>
<rect x="841.7" y="75" width="19.1" height="22.5" fill="#9c9c9c"/>
<rect x="760.3" y="53.3" width="1.3" height="18.4" fill="#fff"/><rect x="842" y="53.3" width="1.3" height="18.4" fill="#fff"/>
<rect x="761.7" y="4.2" width="80" height="84.1" fill="#404040"/>
<rect x="765.8" y="88" width="72.5" height="7.8" fill="#333333"/>
<rect x="767.5" y="89" width="20.8" height="3.5" fill="#c82819"/><rect x="815.8" y="89" width="20.9" height="3.5" fill="#c82819"/>
<rect x="767.5" y="96.3" width="11.5" height="2.4" fill="#ffffff"/><rect x="824" y="96.3" width="11.8" height="2.4" fill="#ffffff"/>
<rect x="793.3" y="41.7" width="17.5" height="7.5" fill="#a8a8a8"/><rect x="793.3" y="49.2" width="17.5" height="6.6" fill="#666"/>
<path d="M789.5,10.3 L792.3,58.5 H812.5 L814.6,10.3" fill="none" stroke="#000" stroke-width="4"/>
<path d="M770.5,54 L773.8,16.5 H779.6 L784,54" fill="none" stroke="#000" stroke-width="3.6" stroke-linejoin="miter"/>
<path d="M819.5,54 L823.5,16.5 H829.3 L833,54" fill="none" stroke="#000" stroke-width="3.6" stroke-linejoin="miter"/>
<rect x="775" y="16.7" width="4.5" height="4" fill="#8a8a8a"/><rect x="824.5" y="16.7" width="4.5" height="4" fill="#8a8a8a"/>
<rect x="770.2" y="114.6" width="63.8" height="111.5" fill="#383838" stroke="#f2b4a4" stroke-width="1"/>
<rect x="851.8" y="107.2" width="20" height="54" fill="#383838" stroke="#f2b4a4" stroke-width="1"/>
<path d="M856,191 H853 V211.5 H856" fill="none" stroke="#fff" stroke-width="1.5"/><rect x="856" y="191" width="10" height="20.5" fill="#e05555"/>
<text x="0" y="0" transform="translate(732.5,72.2) rotate(-90)" font-family='"Liberation Mono", monospace' font-size="14.6" fill="#fff8f4" text-anchor="middle" dominant-baseline="central" stroke="#fff8f4" stroke-width="0.25">FTDI Basic</text>
<text x="0" y="0" transform="translate(748.3,170.7) rotate(-90)" font-family='"Liberation Mono", monospace' font-size="13.6" fill="#fff8f4" text-anchor="middle" dominant-baseline="central" >RX</text>
<text x="0" y="0" transform="translate(748.3,197.6) rotate(-90)" font-family='"Liberation Mono", monospace' font-size="13.6" fill="#fff8f4" text-anchor="middle" dominant-baseline="central" >TX</text>
<rect x="728.5" y="167.5" width="11" height="6" fill="#fff8f0"/><rect x="733" y="169.3" width="2" height="2.4" fill="#c82819"/>
<rect x="728.5" y="194" width="11" height="6" fill="#fff8f0"/><rect x="733" y="195.8" width="2" height="2.4" fill="#c82819"/>
<rect x="721" y="250.7" width="150" height="25" fill="#343434"/>
<rect x="721" y="252" width="24" height="22.5" fill="#3e3e3e"/>
<rect x="728.2" y="258.3" width="9.6" height="9.6" fill="#050505"/>
<rect x="748.7" y="252" width="24" height="22.5" fill="#3e3e3e"/>
<rect x="755.9000000000001" y="258.3" width="9.6" height="9.6" fill="#050505"/>
<rect x="775.4" y="252" width="24" height="22.5" fill="#3e3e3e"/>
<rect x="782.6" y="258.3" width="9.6" height="9.6" fill="#050505"/>
<rect x="803.8" y="252" width="24" height="22.5" fill="#3e3e3e"/>
<rect x="811.0" y="258.3" width="9.6" height="9.6" fill="#050505"/>
<rect x="830.6" y="252" width="24" height="22.5" fill="#3e3e3e"/>
<rect x="837.8000000000001" y="258.3" width="9.6" height="9.6" fill="#050505"/>
<rect x="858" y="252" width="24" height="22.5" fill="#3e3e3e"/>
<rect x="865.2" y="258.3" width="9.6" height="9.6" fill="#050505"/>
<text x="0" y="0" transform="translate(734.6,245.5) rotate(180)" font-family='"Liberation Mono", monospace' font-size="11.2" fill="#fff8f4" text-anchor="middle" dominant-baseline="central" >GND</text>
<text x="0" y="0" transform="translate(761.5,245.5) rotate(180)" font-family='"Liberation Mono", monospace' font-size="11.2" fill="#fff8f4" text-anchor="middle" dominant-baseline="central" >CTS</text>
<text x="0" y="0" transform="translate(788.4,245.5) rotate(180)" font-family='"Liberation Mono", monospace' font-size="11.2" fill="#fff8f4" text-anchor="middle" dominant-baseline="central" >VCC</text>
<text x="0" y="0" transform="translate(815.3,245.5) rotate(180)" font-family='"Liberation Mono", monospace' font-size="11.2" fill="#fff8f4" text-anchor="middle" dominant-baseline="central" >TXO</text>
<text x="0" y="0" transform="translate(842.2,245.5) rotate(180)" font-family='"Liberation Mono", monospace' font-size="11.2" fill="#fff8f4" text-anchor="middle" dominant-baseline="central" >RXI</text>
<text x="0" y="0" transform="translate(869.1,245.5) rotate(180)" font-family='"Liberation Mono", monospace' font-size="11.2" fill="#fff8f4" text-anchor="middle" dominant-baseline="central" >DTR</text>
<text x="0" y="0" transform="translate(735.7,281.5) rotate(180)" font-family='"Liberation Mono", monospace' font-size="11.2" fill="#fff8f4" text-anchor="middle" dominant-baseline="central" >BLK</text>
<text x="0" y="0" transform="translate(869.5,281.5) rotate(180)" font-family='"Liberation Mono", monospace' font-size="11.2" fill="#fff8f4" text-anchor="middle" dominant-baseline="central" >GRN</text>
<circle cx="195.0" cy="102.4" r="9" fill="#86e886" opacity="0.8" filter="url(#bl2)"/>
<path d="M131.3,112.3 C146,75 188,57.5 195,102.4" fill="none" stroke="#000000" stroke-width="11.8" stroke-linecap="round"/>
<path d="M134.2,105.8 L131.3,112.3" stroke="#032a03" stroke-width="11.8" stroke-linecap="round"/>
<path d="M193.5,95.6 L195.0,102.4" stroke="#032a03" stroke-width="11.8" stroke-linecap="round"/>
<path d="M131.3,112.3 C146,75 188,57.5 195,102.4" fill="none" stroke="#424242" stroke-width="6.6" stroke-linecap="round"/>
<path d="M134.2,105.8 L131.3,112.3" stroke="#2d6a2d" stroke-width="6.6" stroke-linecap="round"/>
<path d="M193.5,95.6 L195.0,102.4" stroke="#2d6a2d" stroke-width="6.6" stroke-linecap="round"/>
<circle cx="195.5" cy="130.4" r="9" fill="#86e886" opacity="0.8" filter="url(#bl2)"/>
<path d="M129,139 C141,103 186,88 195.5,130.4" fill="none" stroke="#820a0a" stroke-width="12.0" stroke-linecap="round"/>
<path d="M131.6,132.5 L129.0,139.0" stroke="#6a3008" stroke-width="12.0" stroke-linecap="round"/>
<path d="M193.5,123.6 L195.5,130.4" stroke="#6a3008" stroke-width="12.0" stroke-linecap="round"/>
<path d="M129,139 C141,103 186,88 195.5,130.4" fill="none" stroke="#d11313" stroke-width="8.8" stroke-linecap="round"/>
<path d="M131.6,132.5 L129.0,139.0" stroke="#ae5218" stroke-width="8.8" stroke-linecap="round"/>
<path d="M193.5,123.6 L195.5,130.4" stroke="#ae5218" stroke-width="8.8" stroke-linecap="round"/>
<circle cx="195.3" cy="588.2" r="9" fill="#ff6a6a" opacity="0.8" filter="url(#bl2)"/>
<path d="M123.6,577.7 C145,562 195,545 195.3,588.2" fill="none" stroke="#000000" stroke-width="11.8" stroke-linecap="round"/>
<path d="M129.4,573.8 L123.6,577.7" stroke="#2a0000" stroke-width="11.8" stroke-linecap="round"/>
<path d="M194.7,581.1 L195.3,588.2" stroke="#2a0000" stroke-width="11.8" stroke-linecap="round"/>
<path d="M123.6,577.7 C145,562 195,545 195.3,588.2" fill="none" stroke="#424242" stroke-width="6.6" stroke-linecap="round"/>
<path d="M129.4,573.8 L123.6,577.7" stroke="#6a2c2c" stroke-width="6.6" stroke-linecap="round"/>
<path d="M194.7,581.1 L195.3,588.2" stroke="#6a2c2c" stroke-width="6.6" stroke-linecap="round"/>
<circle cx="195.3" cy="615.3" r="9" fill="#ff6a6a" opacity="0.8" filter="url(#bl2)"/>
<path d="M121.8,605.5 C145,590 195,575 195.3,615.3" fill="none" stroke="#820a0a" stroke-width="12.0" stroke-linecap="round"/>
<path d="M127.8,601.8 L121.8,605.5" stroke="#b00000" stroke-width="12.0" stroke-linecap="round"/>
<path d="M194.6,608.1 L195.3,615.3" stroke="#b00000" stroke-width="12.0" stroke-linecap="round"/>
<path d="M121.8,605.5 C145,590 195,575 195.3,615.3" fill="none" stroke="#d11313" stroke-width="8.8" stroke-linecap="round"/>
<path d="M127.8,601.8 L121.8,605.5" stroke="#e01515" stroke-width="8.8" stroke-linecap="round"/>
<path d="M194.6,608.1 L195.3,615.3" stroke="#e01515" stroke-width="8.8" stroke-linecap="round"/>
<circle cx="275.9" cy="102.7" r="9" fill="#86e886" opacity="0.8" filter="url(#bl2)"/>
<circle cx="238.8" cy="210.6" r="9" fill="#86e886" opacity="0.8" filter="url(#bl2)"/>
<path d="M275.9,102.7 C250,108 239.8,140 238.8,210.6" fill="none" stroke="#000000" stroke-width="11.8" stroke-linecap="round"/>
<path d="M269.1,104.9 L275.9,102.7" stroke="#032a03" stroke-width="11.8" stroke-linecap="round"/>
<path d="M238.9,203.3 L238.8,210.6" stroke="#032a03" stroke-width="11.8" stroke-linecap="round"/>
<path d="M275.9,102.7 C250,108 239.8,140 238.8,210.6" fill="none" stroke="#424242" stroke-width="6.6" stroke-linecap="round"/>
<path d="M269.1,104.9 L275.9,102.7" stroke="#2d6a2d" stroke-width="6.6" stroke-linecap="round"/>
<path d="M238.9,203.3 L238.8,210.6" stroke="#2d6a2d" stroke-width="6.6" stroke-linecap="round"/>
<circle cx="302.8" cy="103.0" r="9" fill="#86e886" opacity="0.8" filter="url(#bl2)"/>
<path d="M302.8,103 C303,230 370,310 437,345" fill="none" stroke="#000000" stroke-width="11.8" stroke-linecap="round"/>
<path d="M302.9,110.6 L302.8,103.0" stroke="#032a03" stroke-width="11.8" stroke-linecap="round"/>
<path d="M430.5,341.4 L437.0,345.0" stroke="#032a03" stroke-width="11.8" stroke-linecap="round"/>
<path d="M302.8,103 C303,230 370,310 437,345" fill="none" stroke="#424242" stroke-width="6.6" stroke-linecap="round"/>
<path d="M302.9,110.6 L302.8,103.0" stroke="#2d6a2d" stroke-width="6.6" stroke-linecap="round"/>
<path d="M430.5,341.4 L437.0,345.0" stroke="#2d6a2d" stroke-width="6.6" stroke-linecap="round"/>
<circle cx="265.8" cy="291.6" r="9" fill="#86e886" opacity="0.8" filter="url(#bl2)"/>
<path d="M265.8,291.6 C330,254 440,246 491.4,345" fill="none" stroke="#000000" stroke-width="11.8" stroke-linecap="round"/>
<path d="M272.2,288.0 L265.8,291.6" stroke="#032a03" stroke-width="11.8" stroke-linecap="round"/>
<path d="M487.8,338.5 L491.4,345.0" stroke="#032a03" stroke-width="11.8" stroke-linecap="round"/>
<path d="M265.8,291.6 C330,254 440,246 491.4,345" fill="none" stroke="#424242" stroke-width="6.6" stroke-linecap="round"/>
<path d="M272.2,288.0 L265.8,291.6" stroke="#2d6a2d" stroke-width="6.6" stroke-linecap="round"/>
<path d="M487.8,338.5 L491.4,345.0" stroke="#2d6a2d" stroke-width="6.6" stroke-linecap="round"/>
<circle cx="680.3" cy="103.0" r="9" fill="#86e886" opacity="0.8" filter="url(#bl2)"/>
<circle cx="733.0" cy="264.0" r="9" fill="#86e886" opacity="0.8" filter="url(#bl2)"/>
<path d="M680.3,103 C694,150 679,195 677,228 C677,255 690,262 733,264" fill="none" stroke="#000000" stroke-width="11.8" stroke-linecap="round"/>
<path d="M682.1,110.0 L680.3,103.0" stroke="#032a03" stroke-width="11.8" stroke-linecap="round"/>
<path d="M725.9,263.6 L733.0,264.0" stroke="#032a03" stroke-width="11.8" stroke-linecap="round"/>
<path d="M680.3,103 C694,150 679,195 677,228 C677,255 690,262 733,264" fill="none" stroke="#424242" stroke-width="6.6" stroke-linecap="round"/>
<path d="M682.1,110.0 L680.3,103.0" stroke="#2d6a2d" stroke-width="6.6" stroke-linecap="round"/>
<path d="M725.9,263.6 L733.0,264.0" stroke="#2d6a2d" stroke-width="6.6" stroke-linecap="round"/>
<circle cx="599.4" cy="129.7" r="9" fill="#86e886" opacity="0.8" filter="url(#bl2)"/>
<path d="M599.4,129.7 C620,200 626,245 602,288 C582,322 552,358 518.8,372.6" fill="none" stroke="#820a0a" stroke-width="12.0" stroke-linecap="round"/>
<path d="M601.4,136.5 L599.4,129.7" stroke="#6a3008" stroke-width="12.0" stroke-linecap="round"/>
<path d="M525.2,369.5 L518.8,372.6" stroke="#6a3008" stroke-width="12.0" stroke-linecap="round"/>
<path d="M599.4,129.7 C620,200 626,245 602,288 C582,322 552,358 518.8,372.6" fill="none" stroke="#d11313" stroke-width="8.8" stroke-linecap="round"/>
<path d="M601.4,136.5 L599.4,129.7" stroke="#ae5218" stroke-width="8.8" stroke-linecap="round"/>
<path d="M525.2,369.5 L518.8,372.6" stroke="#ae5218" stroke-width="8.8" stroke-linecap="round"/>
<circle cx="815.8" cy="264.0" r="9" fill="#86e886" opacity="0.8" filter="url(#bl2)"/>
<path d="M815.8,264 C770,300 690,322 620,318 C570,310 530,305 518.8,345" fill="none" stroke="#199a1b" stroke-width="12.2" stroke-linecap="round"/>
<path d="M810.1,268.3 L815.8,264.0" stroke="#17901a" stroke-width="12.2" stroke-linecap="round"/>
<path d="M521.1,338.3 L518.8,345.0" stroke="#17901a" stroke-width="12.2" stroke-linecap="round"/>
<path d="M815.8,264 C770,300 690,322 620,318 C570,310 530,305 518.8,345" fill="none" stroke="#2ac82c" stroke-width="6.8" stroke-linecap="round"/>
<path d="M810.1,268.3 L815.8,264.0" stroke="#38c038" stroke-width="6.8" stroke-linecap="round"/>
<path d="M521.1,338.3 L518.8,345.0" stroke="#38c038" stroke-width="6.8" stroke-linecap="round"/>
<circle cx="626.4" cy="129.7" r="9" fill="#86e886" opacity="0.8" filter="url(#bl2)"/>
<path d="M626.4,129.7 C640,230 648,340 605,397 C580,428 525,420 464.1,372.6" fill="none" stroke="#820a0a" stroke-width="12.0" stroke-linecap="round"/>
<path d="M627.4,137.2 L626.4,129.7" stroke="#6a3008" stroke-width="12.0" stroke-linecap="round"/>
<path d="M470.0,377.1 L464.1,372.6" stroke="#6a3008" stroke-width="12.0" stroke-linecap="round"/>
<path d="M626.4,129.7 C640,230 648,340 605,397 C580,428 525,420 464.1,372.6" fill="none" stroke="#d11313" stroke-width="8.8" stroke-linecap="round"/>
<path d="M627.4,137.2 L626.4,129.7" stroke="#ae5218" stroke-width="8.8" stroke-linecap="round"/>
<path d="M470.0,377.1 L464.1,372.6" stroke="#ae5218" stroke-width="8.8" stroke-linecap="round"/>
<circle cx="842.6" cy="264.0" r="9" fill="#86e886" opacity="0.8" filter="url(#bl2)"/>
<path d="M842.6,264 C780,350 620,440 540,425 C490,415 455,388 437,372.6" fill="none" stroke="#b8601e" stroke-width="12.0" stroke-linecap="round"/>
<path d="M838.2,269.8 L842.6,264.0" stroke="#9a8a28" stroke-width="12.0" stroke-linecap="round"/>
<path d="M442.4,377.1 L437.0,372.6" stroke="#9a8a28" stroke-width="12.0" stroke-linecap="round"/>
<path d="M842.6,264 C780,350 620,440 540,425 C490,415 455,388 437,372.6" fill="none" stroke="#f26c10" stroke-width="9.0" stroke-linecap="round"/>
<path d="M838.2,269.8 L842.6,264.0" stroke="#b8a838" stroke-width="9.0" stroke-linecap="round"/>
<path d="M442.4,377.1 L437.0,372.6" stroke="#b8a838" stroke-width="9.0" stroke-linecap="round"/>
<rect x="0" y="718.7" width="864" height="1.3" fill="#111111"/>
<path d="M855.2,706 V683 Q855.2,676 862,676 H868 M850.6,686.4 H862.2" fill="none" stroke="#8a8a8a" stroke-width="4.6" stroke-linecap="round"/>
</svg></body></html>
